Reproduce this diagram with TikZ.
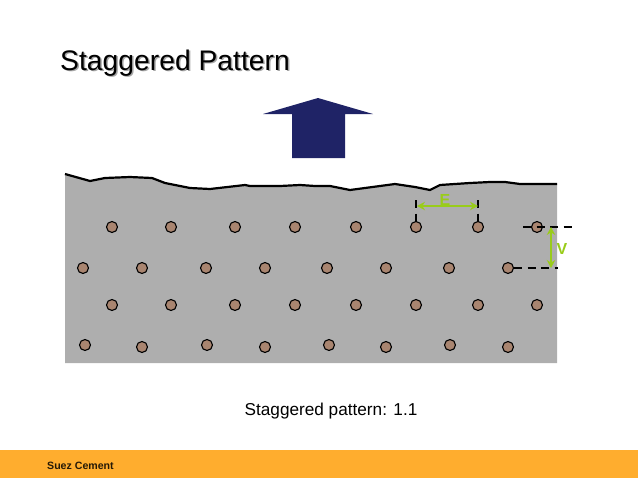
\documentclass[tikz,border=0pt]{standalone}
\usepackage{fontspec}
\setmainfont{Liberation Sans}
\definecolor{rock}{HTML}{AEAEAE}
\definecolor{charge}{HTML}{A98570}
\definecolor{navy}{HTML}{1F2366}
\definecolor{lime}{HTML}{99CC1A}
\definecolor{band}{HTML}{FFAD2E}
\tikzset{
  hole/.style = {draw, circle, fill=charge, line width=1.1pt, minimum size=11pt, inner sep=0pt},
  dim/.style = {draw=lime, line width=2.2pt, <->, >={Stealth[length=8pt,width=8.5pt]}},
  guide/.style = {line width=1.5pt, dash pattern=on 8pt off 5.5pt},
}
\usetikzlibrary{arrows.meta}
\begin{document}
\begin{tikzpicture}[x=1pt, y=-1pt]
	\useasboundingbox (0,0) rectangle (638,479);
	\fill[band] (0,450) rectangle (638,478);
	\node[anchor=west, font=\bfseries\fontsize{10.6}{13}\selectfont, text=black!85!band, inner sep=0pt] (footer) at (47,466) {Suez Cement};
	\node[gray!70, anchor=base west, font=\fontsize{28.3}{32}\selectfont, inner sep=0pt] (shadow) at (61.5,71.5) {Staggered Pattern};
	\node[anchor=base west, font=\fontsize{28.3}{32}\selectfont, inner sep=0pt] (title) at (60,70) {Staggered Pattern};
	\node[font=\fontsize{17.2}{20}\selectfont] (caption) at (331,411) {Staggered pattern: 1.1};
	% arrow
	\fill[navy] (318,98) -- (373,114) -- (345,114) -- (345,158) -- (292,158) -- (292,114) -- (263,114) -- cycle;
	% rock
	\fill[rock] (65,174) -- (90,181) -- (105,178) -- (130,177) -- (152,178) -- (165,183) -- (190,188) -- (210,189) -- (245,185) -- (250,186) -- (280,186) -- (300,185) -- (315,186) -- (330,186) -- (350,190) -- (365,188) -- (395,184) -- (415,187) -- (430,190) -- (440,185) -- (470,183) -- (490,182) -- (505,182) -- (520,184) -- (557,184) -- (557,363) -- (65,363) -- cycle;
	\draw[line width=2.2pt] (65,174) -- (90,181) -- (105,178) -- (130,177) -- (152,178) -- (165,183) -- (190,188) -- (210,189) -- (245,185) -- (250,186) -- (280,186) -- (300,185) -- (315,186) -- (330,186) -- (350,190) -- (365,188) -- (395,184) -- (415,187) -- (430,190) -- (440,185) -- (470,183) -- (490,182) -- (505,182) -- (520,184) -- (557,184);
	% holes
	\foreach \x [count=\i] in {112,171,235,295,356,416,478,537}
		\node[hole] (a\i) at (\x,227) {};
	\foreach \x [count=\i] in {83,142,206,265,327,386,449,508}
		\node[hole] (b\i) at (\x,268) {};
	\foreach \x [count=\i] in {112,171,235,295,356,416,478,537}
		\node[hole] (c\i) at (\x,305) {};
	\foreach \x/\y [count=\i] in {85/345,142/347,207/345,265/347,329/345,386/347,450/345,508/347}
		\node[hole] (d\i) at (\x,\y) {};
	% spacing
	\coordinate (e1) at (416,200);
	\coordinate (e2) at (478,200);
	\coordinate (e3) at (417,206);
	\coordinate (e4) at (478,206);
	\coordinate (v1) at (523,227);
	\coordinate (v2) at (573,227);
	\coordinate (v3) at (558,268);
	\coordinate (v4) at (551,227);
	\coordinate (v5) at (551,268);
	\draw[guide] (e1) -- (a6);
	\draw[guide] (e2) -- (a7);
	\draw[guide] (v1) -- (v2);
	\draw[guide] (b8) -- (v3);
	\draw[dim] (e3) -- (e4);
	\draw[dim] (v4) -- (v5);
	\node[text=lime, font=\bfseries\fontsize{16}{18}\selectfont, inner sep=0pt] (E) at (445,200) {E};
	\node[text=lime, font=\bfseries\fontsize{16}{18}\selectfont, inner sep=0pt] (V) at (562,249) {V};
\end{tikzpicture}
\end{document}
